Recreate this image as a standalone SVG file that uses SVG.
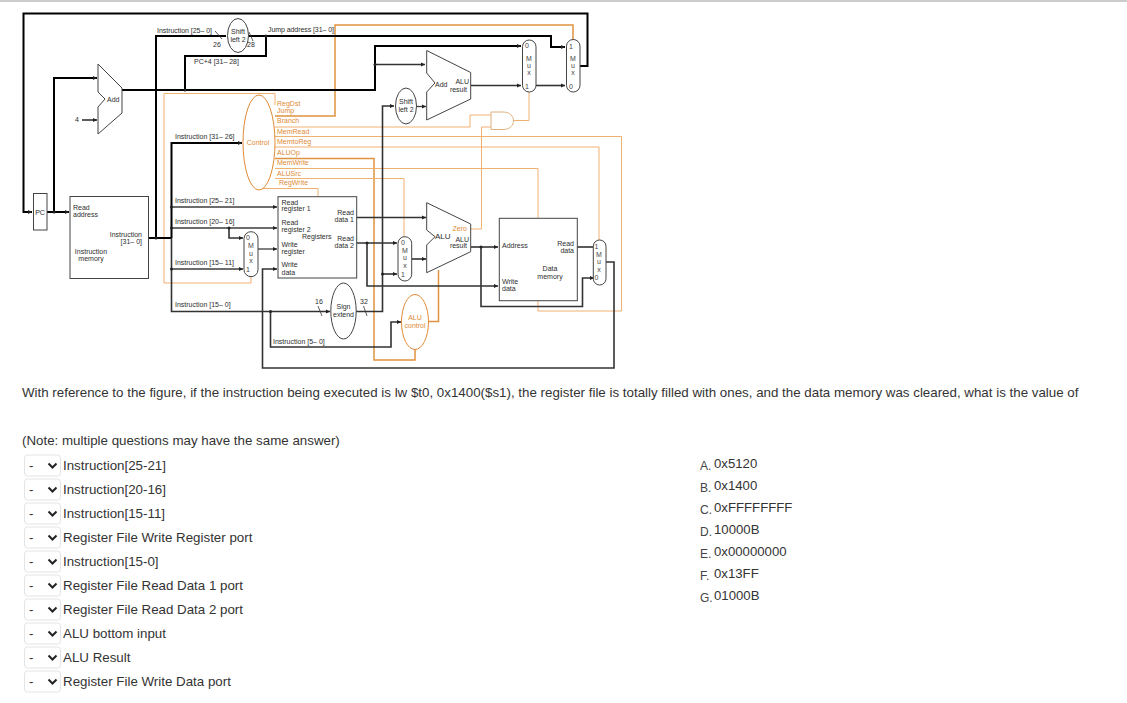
<svg xmlns="http://www.w3.org/2000/svg" width="1127" height="703" viewBox="0 0 1127 703">
<style>
text{font-family:"Liberation Sans",Arial,sans-serif}
.t{font-size:7px;fill:#2e2e2e}
.o{font-size:7px;fill:#e08a35}
.m{font-size:7px;fill:#444;text-anchor:middle}
.c{text-anchor:middle}
.e{text-anchor:end}
.q{font-size:13.33px;fill:#333}
.a{font-size:12px;fill:#444}
.v{font-size:13.2px;fill:#333}
.n{fill:#fff;stroke:#444;stroke-width:1}
.k{fill:none;stroke:#000;stroke-width:2}
.g{fill:none;stroke:#3c3c3c;stroke-width:1.3}
.b{fill:none;stroke:#333;stroke-width:1.6}
.y{fill:none;stroke:#f0b070;stroke-width:1}
.r{fill:none;stroke:#e0923f;stroke-width:1.5}
.h{fill:none;stroke:#333;stroke-width:.8}
.cn{fill:#fff;stroke:#e08a35;stroke-width:1}
</style>
<defs>
<marker id="ar" markerUnits="userSpaceOnUse" markerWidth="5" markerHeight="5" refX="4" refY="2.5" orient="auto"><path d="M0 .5L4 2.5L0 4.5z" fill="#222"/></marker>
<g id="dd"><rect x="0" y="0" width="36" height="21" rx="3" fill="#fff" stroke="#e4e4e4"/><path d="M24 8.5l4 4 4-4" fill="none" stroke="#222" stroke-width="2"/></g>
</defs>
<rect width="1127" height="703" fill="#fff"/>
<path d="M0 1H1127" stroke="#bbb" stroke-width="1.5"/>

<g id="connectors">
<path class="r" d="M275 116H335V25H573V40"/>
<path class="y" d="M275 105V93.5H164V283H251V276"/>
<path class="y" d="M275 127H470V115H491"/>
<path class="y" d="M275 136.500H621.500V311H538V300.500"/>
<path class="y" d="M275 147H599V240"/>
<path class="r" d="M275 158.500H374V360H415V349"/>
<path class="y" d="M275 168.500H538V218"/>
<path class="y" d="M275 178.500H404V237"/>
<path class="y" d="M262 188.500H318V196.500"/>
<path class="y" d="M470.500 229H481.500V127H491"/>
<path class="y" d="M513 120.500H529V92"/>
<path class="r" d="M438.500 270V321.500H428"/>
<path class="k" d="M580 66H587.500V13.500H23.500V212H32" marker-end="url(#ar)"/>
<path class="k" d="M47 212H69" marker-end="url(#ar)"/>
<path class="k" d="M54 212V78H97" marker-end="url(#ar)"/>
<path class="b" d="M82 120H97" marker-end="url(#ar)"/>
<path class="k" d="M122 90H375V46H521" marker-end="url(#ar)"/>
<path class="b" d="M375 64.500H425" marker-end="url(#ar)"/>
<path class="k" d="M148.500 238H172"/>
<path class="k" d="M156 238V36H226"/>
<path class="k" d="M248 36H551V47H565" marker-end="url(#ar)"/>
<path class="k" d="M185 90V56H266V36"/>
<path class="k" d="M171.500 238V143H242" marker-end="url(#ar)"/>
<path class="b" d="M171.500 238V311.500H330" marker-end="url(#ar)"/>
<path class="g" d="M171.500 207H277" marker-end="url(#ar)"/>
<path class="g" d="M171.500 228H277" marker-end="url(#ar)"/>
<path class="g" d="M171.500 269H243" marker-end="url(#ar)"/>
<path class="b" d="M229 228V238H243" marker-end="url(#ar)"/>
<path class="g" d="M258 249H277" marker-end="url(#ar)"/>
<path class="b" d="M605 262H614V368H262.500V269H277" marker-end="url(#ar)"/>
<path class="b" d="M270.500 311.500V347H391V322H401" marker-end="url(#ar)"/>
<path class="b" d="M356 311.500H382.500V106H394" marker-end="url(#ar)"/>
<path class="b" d="M382.500 274H397" marker-end="url(#ar)"/>
<path class="g" d="M416.500 106.500H426" marker-end="url(#ar)"/>
<path class="b" d="M470.500 85.500H521" marker-end="url(#ar)"/>
<path class="b" d="M536 85.500H565" marker-end="url(#ar)"/>
<path class="b" d="M356.500 217.500H426" marker-end="url(#ar)"/>
<path class="b" d="M356.500 243H397" marker-end="url(#ar)"/>
<path class="b" d="M411.500 259H426" marker-end="url(#ar)"/>
<path class="b" d="M367 243V286H498" marker-end="url(#ar)"/>
<path class="b" d="M470.500 247H498" marker-end="url(#ar)"/>
<path class="b" d="M481 247V306.500H582.500V278H594" marker-end="url(#ar)"/>
<path class="b" d="M577 247H593"/>
<path class="h" d="M215 31L222 39M249 32L253 41M318 306L322 316M363.500 306L367 316"/>
<g fill="#222"><circle cx="54" cy="212" r="1.500"/><circle cx="156" cy="238" r="1.500"/><circle cx="185" cy="90" r="1.500"/><circle cx="266" cy="36" r="1.500"/><circle cx="375" cy="64.500" r="1.500"/><circle cx="171.500" cy="207" r="1.500"/><circle cx="171.500" cy="228" r="1.500"/><circle cx="171.500" cy="269" r="1.500"/><circle cx="229" cy="228" r="1.500"/><circle cx="270.500" cy="311.500" r="1.500"/><circle cx="367" cy="243" r="1.500"/><circle cx="481" cy="247" r="1.500"/><circle cx="382.500" cy="274" r="1.500"/></g>
</g>

<g id="signal-labels">
<text class="t" x="157" y="32.500" textLength="55">Instruction [25– 0]</text>
<text class="t" x="268" y="32" textLength="66">Jump address [31– 0]</text>
<text class="t" x="213" y="46.500">26</text>
<text class="t" x="247" y="47">28</text>
<text class="t" x="194" y="64">PC+4 [31– 28]</text>
<text class="t" x="175" y="139">Instruction [31– 26]</text>
<text class="t" x="175" y="203">Instruction [25– 21]</text>
<text class="t" x="175" y="224">Instruction [20– 16]</text>
<text class="t" x="175" y="265">Instruction [15– 11]</text>
<text class="t" x="175" y="307">Instruction [15– 0]</text>
<text class="t" x="273" y="344">Instruction [5– 0]</text>
<text class="t" x="315" y="304">16</text>
<text class="t" x="360" y="304">32</text>
<text class="t" x="75" y="122">4</text>
<text class="o" x="277" y="105.500">RegDst</text>
<text class="o" x="277" y="113">Jump</text>
<text class="o" x="277" y="123">Branch</text>
<text class="o" x="277" y="133.500">MemRead</text>
<text class="o" x="277" y="144">MemtoReg</text>
<text class="o" x="277" y="154.500">ALUOp</text>
<text class="o" x="277" y="164.500">MemWrite</text>
<text class="o" x="277" y="175.500">ALUSrc</text>
<text class="o" x="279" y="185">RegWrite</text>
</g>

<g id="pc"><rect class="n" x="33.500" y="193.500" width="13.500" height="36.500"/><text class="t c" x="40" y="214.500">PC</text></g>
<g id="instruction-memory"><rect class="n" x="70" y="196.500" width="78.500" height="82"/>
<text class="t" x="73" y="210">Read</text><text class="t" x="73" y="217">address</text>
<text class="t e" x="142" y="237">Instruction</text><text class="t e" x="142" y="243.500">[31– 0]</text>
<text class="t c" x="91" y="253.500">Instruction</text><text class="t c" x="91" y="261">memory</text></g>
<g id="pc-adder"><path class="n" d="M98 64L122 88V113L98 134V107L105 99L98 92Z"/><text class="t" x="107" y="101.500">Add</text></g>
<g id="shift-left-jump"><ellipse class="n" cx="238" cy="35.500" rx="10.500" ry="17"/><text class="t c" x="238" y="33.500">Shift</text><text class="t c" x="238" y="41.500">left 2</text></g>
<g id="control"><ellipse class="cn" cx="259" cy="142.500" rx="16" ry="47.500"/><text class="o c" x="258" y="145">Control</text></g>
<g id="branch-adder"><path class="n" d="M426.700 50.500L470.700 72.500V99L426.700 120V92L435 83L426.700 73Z"/><text class="t" x="435" y="87">Add</text><text class="t e" x="469" y="84">ALU</text><text class="t e" x="467" y="91.500">result</text></g>
<g id="shift-left-branch"><ellipse class="n" cx="406" cy="106" rx="10.500" ry="18"/><text class="t c" x="406" y="104">Shift</text><text class="t c" x="406" y="112">left 2</text></g>
<g id="and-gate"><path fill="#fff" stroke="#e0b080" stroke-width="1" d="M491 112H503C517 112 517 129.500 503 129.500H491Z"/></g>
<g id="mux-pc-branch"><rect class="n" x="522.500" y="40" width="13.500" height="52" rx="6.700"/><text class="m" x="527" y="48">0</text><text class="m" x="529" y="61">M</text><text class="m" x="529" y="68">u</text><text class="m" x="529" y="75">x</text><text class="m" x="527" y="89">1</text></g>
<g id="mux-pc-jump"><rect class="n" x="566.500" y="39.500" width="13.500" height="52.500" rx="6.700"/><text class="m" x="571" y="49">1</text><text class="m" x="573" y="61">M</text><text class="m" x="573" y="68">u</text><text class="m" x="573" y="75">x</text><text class="m" x="571" y="89">0</text></g>
<g id="registers"><rect class="n" x="278" y="196.700" width="78.700" height="81.300"/>
<text class="t" x="281.500" y="204.500">Read</text><text class="t" x="281.500" y="211">register 1</text>
<text class="t" x="281.500" y="225">Read</text><text class="t" x="281.500" y="232">register 2</text>
<text class="t" x="302" y="239">Registers</text>
<text class="t" x="281.500" y="247">Write</text><text class="t" x="281.500" y="254">register</text>
<text class="t" x="281.500" y="267">Write</text><text class="t" x="281.500" y="274.500">data</text>
<text class="t e" x="354" y="215">Read</text><text class="t e" x="354" y="222">data 1</text>
<text class="t e" x="354" y="240.500">Read</text><text class="t e" x="354" y="248">data 2</text></g>
<g id="mux-write-register"><rect class="n" x="244" y="231.700" width="14" height="45" rx="7"/><text class="m" x="248" y="240">0</text><text class="m" x="251" y="248">M</text><text class="m" x="251" y="255.500">u</text><text class="m" x="251" y="263">x</text><text class="m" x="248" y="271.500">1</text></g>
<g id="sign-extend"><ellipse class="n" cx="343.500" cy="311" rx="12.700" ry="28"/><text class="t c" x="343.500" y="309">Sign</text><text class="t c" x="343.500" y="317">extend</text></g>
<g id="mux-alu-src"><rect class="n" x="398" y="236.700" width="13.700" height="44.300" rx="6.800"/><text class="m" x="403" y="245">0</text><text class="m" x="405" y="253">M</text><text class="m" x="405" y="260">u</text><text class="m" x="405" y="268">x</text><text class="m" x="403" y="277">1</text></g>
<g id="alu"><path class="n" d="M426.700 202.700L470.700 224V251.700L426.700 272.700V245L435 236.700L426.700 230Z"/><text class="t" x="435" y="239" style="font-size:8px">ALU</text><text class="o e" x="467" y="231">Zero</text><text class="t e" x="469" y="241.500">ALU</text><text class="t e" x="467" y="248">result</text></g>
<g id="alu-control"><ellipse class="cn" cx="415" cy="322" rx="13.500" ry="27.500"/><text class="o c" x="415" y="320">ALU</text><text class="o c" x="415" y="328">control</text></g>
<g id="data-memory"><rect class="n" x="499.300" y="218.300" width="78" height="82.400"/><text class="t" x="502" y="248">Address</text><text class="t" x="502" y="284">Write</text><text class="t" x="502" y="291">data</text><text class="t e" x="574" y="245.500">Read</text><text class="t e" x="574" y="252.500">data</text><text class="t c" x="550" y="270.500">Data</text><text class="t c" x="550" y="278.500">memory</text></g>
<g id="mux-mem-to-reg"><rect class="n" x="593.300" y="240" width="12.700" height="45" rx="6.300"/><text class="m" x="596.500" y="248.500">1</text><text class="m" x="599" y="257">M</text><text class="m" x="599" y="264">u</text><text class="m" x="599" y="272">x</text><text class="m" x="596.500" y="280">0</text></g>

<g id="question">
<text class="q" x="22" y="397">With reference to the figure, if the instruction being executed is lw $t0, 0x1400($s1), the register file is totally filled with ones, and the data memory was cleared, what is the value of</text>
<text class="q" x="22" y="445">(Note: multiple questions may have the same answer)</text>
</g>
<g id="dropdowns">
<use href="#dd" x="24.500" y="455"/><text class="q" x="29" y="470">-</text><text class="q" x="63" y="470">Instruction[25-21]</text>
<use href="#dd" x="24.500" y="479"/><text class="q" x="29" y="494">-</text><text class="q" x="63" y="494">Instruction[20-16]</text>
<use href="#dd" x="24.500" y="503"/><text class="q" x="29" y="518">-</text><text class="q" x="63" y="518">Instruction[15-11]</text>
<use href="#dd" x="24.500" y="527"/><text class="q" x="29" y="542">-</text><text class="q" x="63" y="542">Register File Write Register port</text>
<use href="#dd" x="24.500" y="551"/><text class="q" x="29" y="566">-</text><text class="q" x="63" y="566">Instruction[15-0]</text>
<use href="#dd" x="24.500" y="575"/><text class="q" x="29" y="590">-</text><text class="q" x="63" y="590">Register File Read Data 1 port</text>
<use href="#dd" x="24.500" y="599"/><text class="q" x="29" y="614">-</text><text class="q" x="63" y="614">Register File Read Data 2 port</text>
<use href="#dd" x="24.500" y="623"/><text class="q" x="29" y="638">-</text><text class="q" x="63" y="638">ALU bottom input</text>
<use href="#dd" x="24.500" y="647"/><text class="q" x="29" y="662">-</text><text class="q" x="63" y="662">ALU Result</text>
<use href="#dd" x="24.500" y="671"/><text class="q" x="29" y="686">-</text><text class="q" x="63" y="686">Register File Write Data port</text>
</g>
<g id="answers">
<text class="a" x="700" y="470">A.</text><text class="v" x="714" y="468">0x5120</text>
<text class="a" x="700" y="492">B.</text><text class="v" x="714" y="490">0x1400</text>
<text class="a" x="700" y="514">C.</text><text class="v" x="714" y="512">0xFFFFFFFF</text>
<text class="a" x="700" y="536">D.</text><text class="v" x="714" y="534">10000B</text>
<text class="a" x="700" y="558">E.</text><text class="v" x="714" y="556">0x00000000</text>
<text class="a" x="700" y="580">F.</text><text class="v" x="714" y="578">0x13FF</text>
<text class="a" x="700" y="602">G.</text><text class="v" x="714" y="600">01000B</text>
</g>
</svg>
